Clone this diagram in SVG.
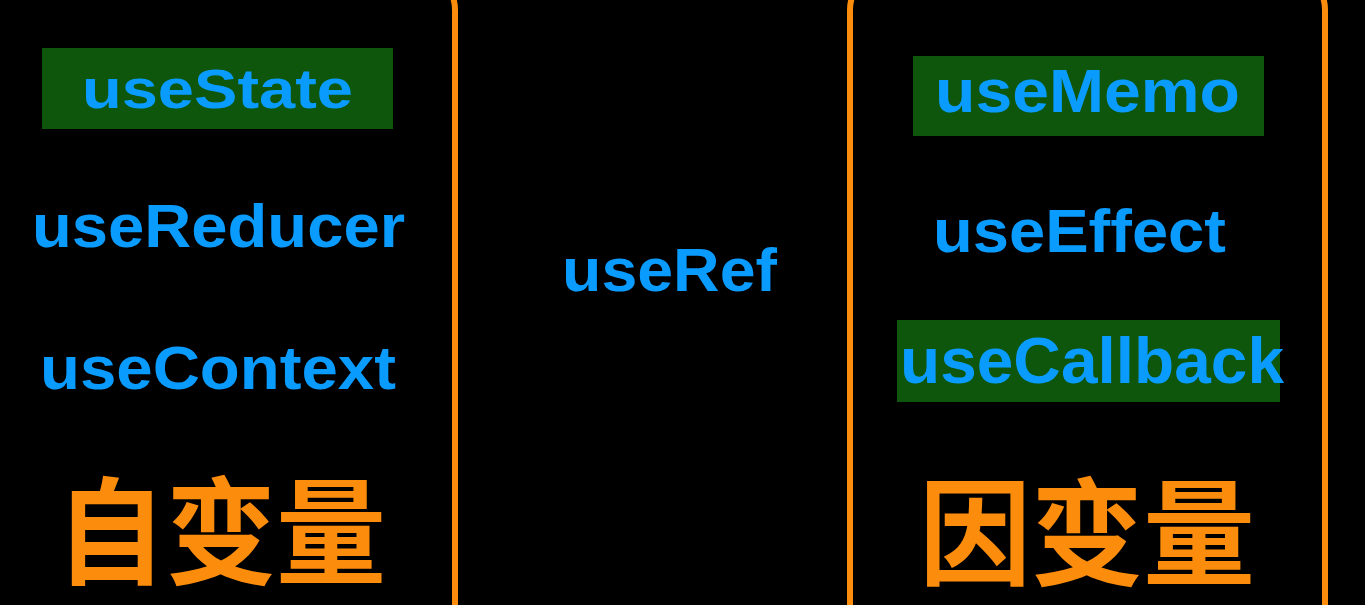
<svg xmlns="http://www.w3.org/2000/svg" width="1365" height="605" viewBox="0 0 1365 605">
  <style>
    .frame { fill: none; stroke: #fb8c0c; stroke-width: 6; }
    .hl { fill: #0e560c; }
    .hook { font-family: "Liberation Sans", Arial, sans-serif; font-weight: bold; fill: #0a9bff; }
    .cjk { font-family: "Noto Sans CJK SC", "Noto Sans CJK JP", sans-serif; font-weight: bold; fill: #fb8c0c; font-size: 116px; }
  </style>
  <rect x="0" y="0" width="1365" height="605" fill="#000"/>
  <g id="left-group">
    <rect class="frame" x="-100" y="-30" width="555" height="700" rx="40"/>
    <rect class="hl" x="42" y="48" width="351" height="81"/>
    <text class="hook" x="82" y="108" font-size="56" textLength="271" lengthAdjust="spacingAndGlyphs">useState</text>
    <text class="hook" x="32" y="247" font-size="61" textLength="373" lengthAdjust="spacingAndGlyphs">useReducer</text>
    <text class="hook" x="40" y="389" font-size="62" textLength="356" lengthAdjust="spacingAndGlyphs">useContext</text>
    <text class="cjk" x="56" y="575" textLength="330" lengthAdjust="spacingAndGlyphs">自变量</text>
  </g>
  <g id="middle">
    <text class="hook" x="562" y="291" font-size="61" textLength="215" lengthAdjust="spacingAndGlyphs">useRef</text>
  </g>
  <g id="right-group">
    <rect class="frame" x="850" y="-30" width="475" height="700" rx="40"/>
    <rect class="hl" x="913" y="56" width="351" height="80"/>
    <text class="hook" x="935" y="112" font-size="61" textLength="305" lengthAdjust="spacingAndGlyphs">useMemo</text>
    <text class="hook" x="933" y="252" font-size="62" textLength="293" lengthAdjust="spacingAndGlyphs">useEffect</text>
    <rect class="hl" x="897" y="320" width="383" height="82"/>
    <text class="hook" x="900" y="383" font-size="65" textLength="384" lengthAdjust="spacingAndGlyphs">useCallback</text>
    <text class="cjk" x="919" y="576" textLength="336" lengthAdjust="spacingAndGlyphs">因变量</text>
  </g>
  <g id="connectors"></g>
</svg>
